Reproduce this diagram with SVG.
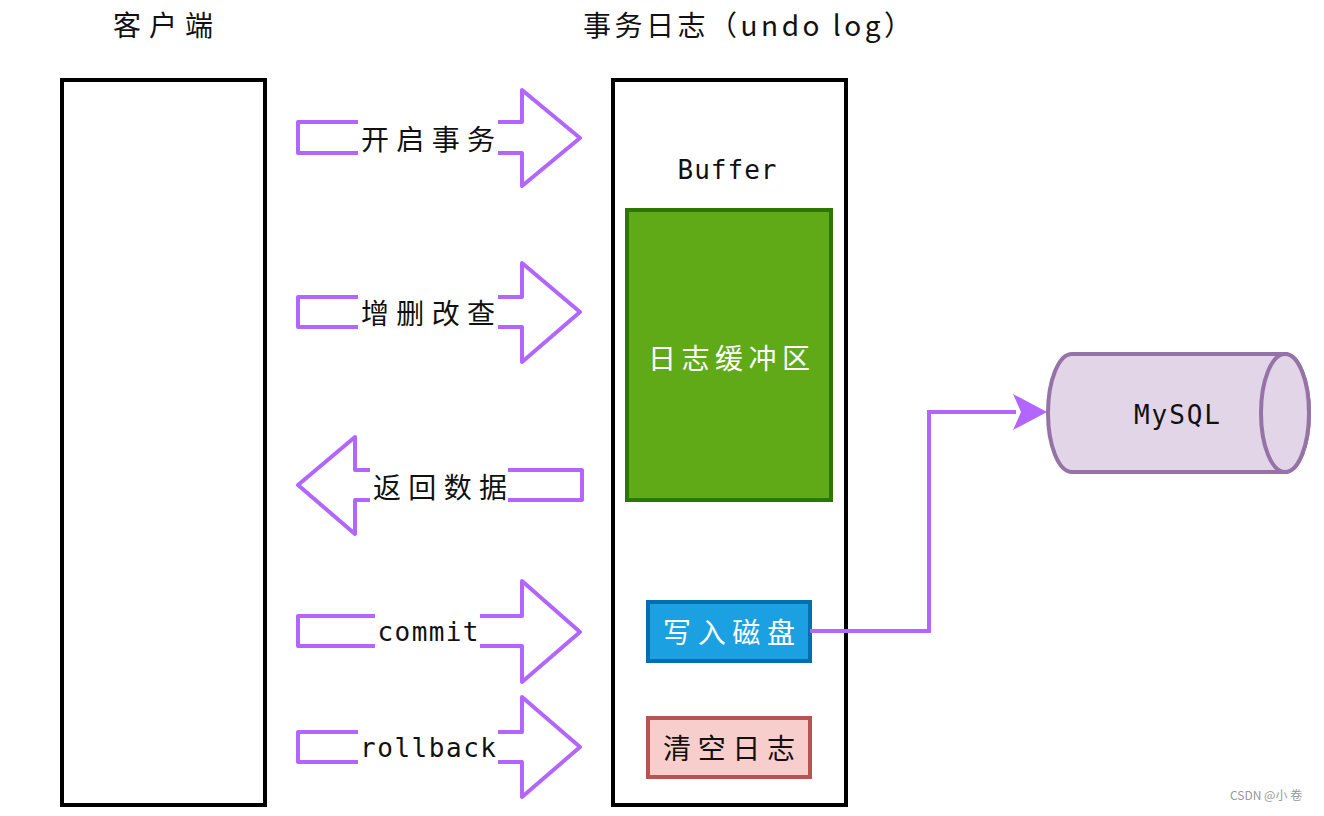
<svg xmlns="http://www.w3.org/2000/svg" width="1324" height="816" viewBox="0 0 1324 816">
<style>
.bg{fill:#ffffff}
.frame{fill:none;stroke:#000000;stroke-width:4}
.barrow{fill:none;stroke:#B266FF;stroke-width:4;stroke-linejoin:round}
.gap{fill:#ffffff}
.cn{font-family:"Noto Sans CJK SC","Noto Sans",sans-serif;font-size:28px;fill:#111111}
.lat{font-family:"DejaVu Sans Mono","Noto Sans CJK SC",monospace;font-size:26px;fill:#111111}
.conn{fill:none;stroke:#B266FF;stroke-width:4}
</style>
<rect class="bg" x="0" y="0" width="1324" height="816"/>

<g id="title-client">
<text class="cn" x="163" y="24" text-anchor="middle" dominant-baseline="central" textLength="100" lengthAdjust="spacing">客户端</text>
</g>
<g id="title-undo">
<text class="cn" x="583" y="24" dominant-baseline="central" textLength="329" lengthAdjust="spacing">事务日志（undo log）</text>
</g>

<g id="client">
<rect class="frame" x="62" y="80" width="203" height="725"/>
</g>

<g id="undolog">
<rect class="frame" x="613" y="80" width="233" height="725"/>
<text class="lat" x="727" y="170" text-anchor="middle" dominant-baseline="central" textLength="99" lengthAdjust="spacing">Buffer</text>
</g>

<g id="logbuffer">
<rect x="627" y="210" width="204" height="290" fill="#60A917" stroke="#2D7600" stroke-width="4"/>
<text class="cn" x="729" y="357" text-anchor="middle" dominant-baseline="central" textLength="162" lengthAdjust="spacing" style="fill:#ffffff">日志缓冲区</text>
</g>

<g id="writedisk">
<rect x="648" y="602" width="162" height="59" fill="#1BA1E2" stroke="#006EAF" stroke-width="4"/>
<text class="cn" x="729" y="631" text-anchor="middle" dominant-baseline="central" textLength="132" lengthAdjust="spacing" style="fill:#ffffff">写入磁盘</text>
</g>

<g id="clearlog">
<rect x="648" y="718" width="162" height="59" fill="#F8CECC" stroke="#B85450" stroke-width="4"/>
<text class="cn" x="729" y="747" text-anchor="middle" dominant-baseline="central" textLength="132" lengthAdjust="spacing">清空日志</text>
</g>

<g id="mysql">
<path d="M1072,354 L1285,354 A24,59 0 0 1 1285,472 L1072,472 A24,59 0 0 1 1072,354 Z" fill="#E1D5E7" stroke="#9673A6" stroke-width="4"/>
<ellipse cx="1285" cy="413" rx="24" ry="59" fill="#E1D5E7" stroke="#9673A6" stroke-width="4"/>
<text class="lat" x="1177" y="415" text-anchor="middle" dominant-baseline="central" textLength="86" lengthAdjust="spacing">MySQL</text>
</g>

<g id="arrow-begin">
<polygon class="barrow" points="298,122 522,122 522,90 580,138 522,186 522,153 298,153"/>
<rect class="gap" x="358" y="115" width="140" height="45"/>
<text class="cn" x="428" y="138" text-anchor="middle" dominant-baseline="central" textLength="134" lengthAdjust="spacing">开启事务</text>
</g>

<g id="arrow-crud">
<polygon class="barrow" points="298,297 522,297 522,263 580,312 522,362 522,327 298,327"/>
<rect class="gap" x="358" y="290" width="140" height="45"/>
<text class="cn" x="428" y="312" text-anchor="middle" dominant-baseline="central" textLength="134" lengthAdjust="spacing">增删改查</text>
</g>

<g id="arrow-return">
<polygon class="barrow" points="582,470 355,470 355,437 298,485 355,534 355,500 582,500"/>
<rect class="gap" x="370" y="463" width="138" height="45"/>
<text class="cn" x="440" y="486" text-anchor="middle" dominant-baseline="central" textLength="134" lengthAdjust="spacing">返回数据</text>
</g>

<g id="arrow-commit">
<polygon class="barrow" points="298,616 522,616 522,581 580,632 522,682 522,646 298,646"/>
<rect class="gap" x="375" y="608" width="105" height="45"/>
<text class="lat" x="428" y="632" text-anchor="middle" dominant-baseline="central" textLength="101" lengthAdjust="spacing">commit</text>
</g>

<g id="arrow-rollback">
<polygon class="barrow" points="298,732 522,732 522,697 580,747 522,797 522,762 298,762"/>
<rect class="gap" x="358" y="725" width="140" height="45"/>
<text class="lat" x="428" y="748" text-anchor="middle" dominant-baseline="central" textLength="136" lengthAdjust="spacing">rollback</text>
</g>

<g id="connectors">
<polyline class="conn" points="810,631 929,631 929,412 1016,412"/>
<polygon points="1047,412 1013,394 1021,412 1013,430" fill="#B266FF"/>
</g>

<g id="watermark">
<text x="1230" y="800" font-family="'Noto Sans CJK SC','Liberation Sans',sans-serif" font-size="12" fill="#999999">CSDN @小 卷</text>
</g>
</svg>
